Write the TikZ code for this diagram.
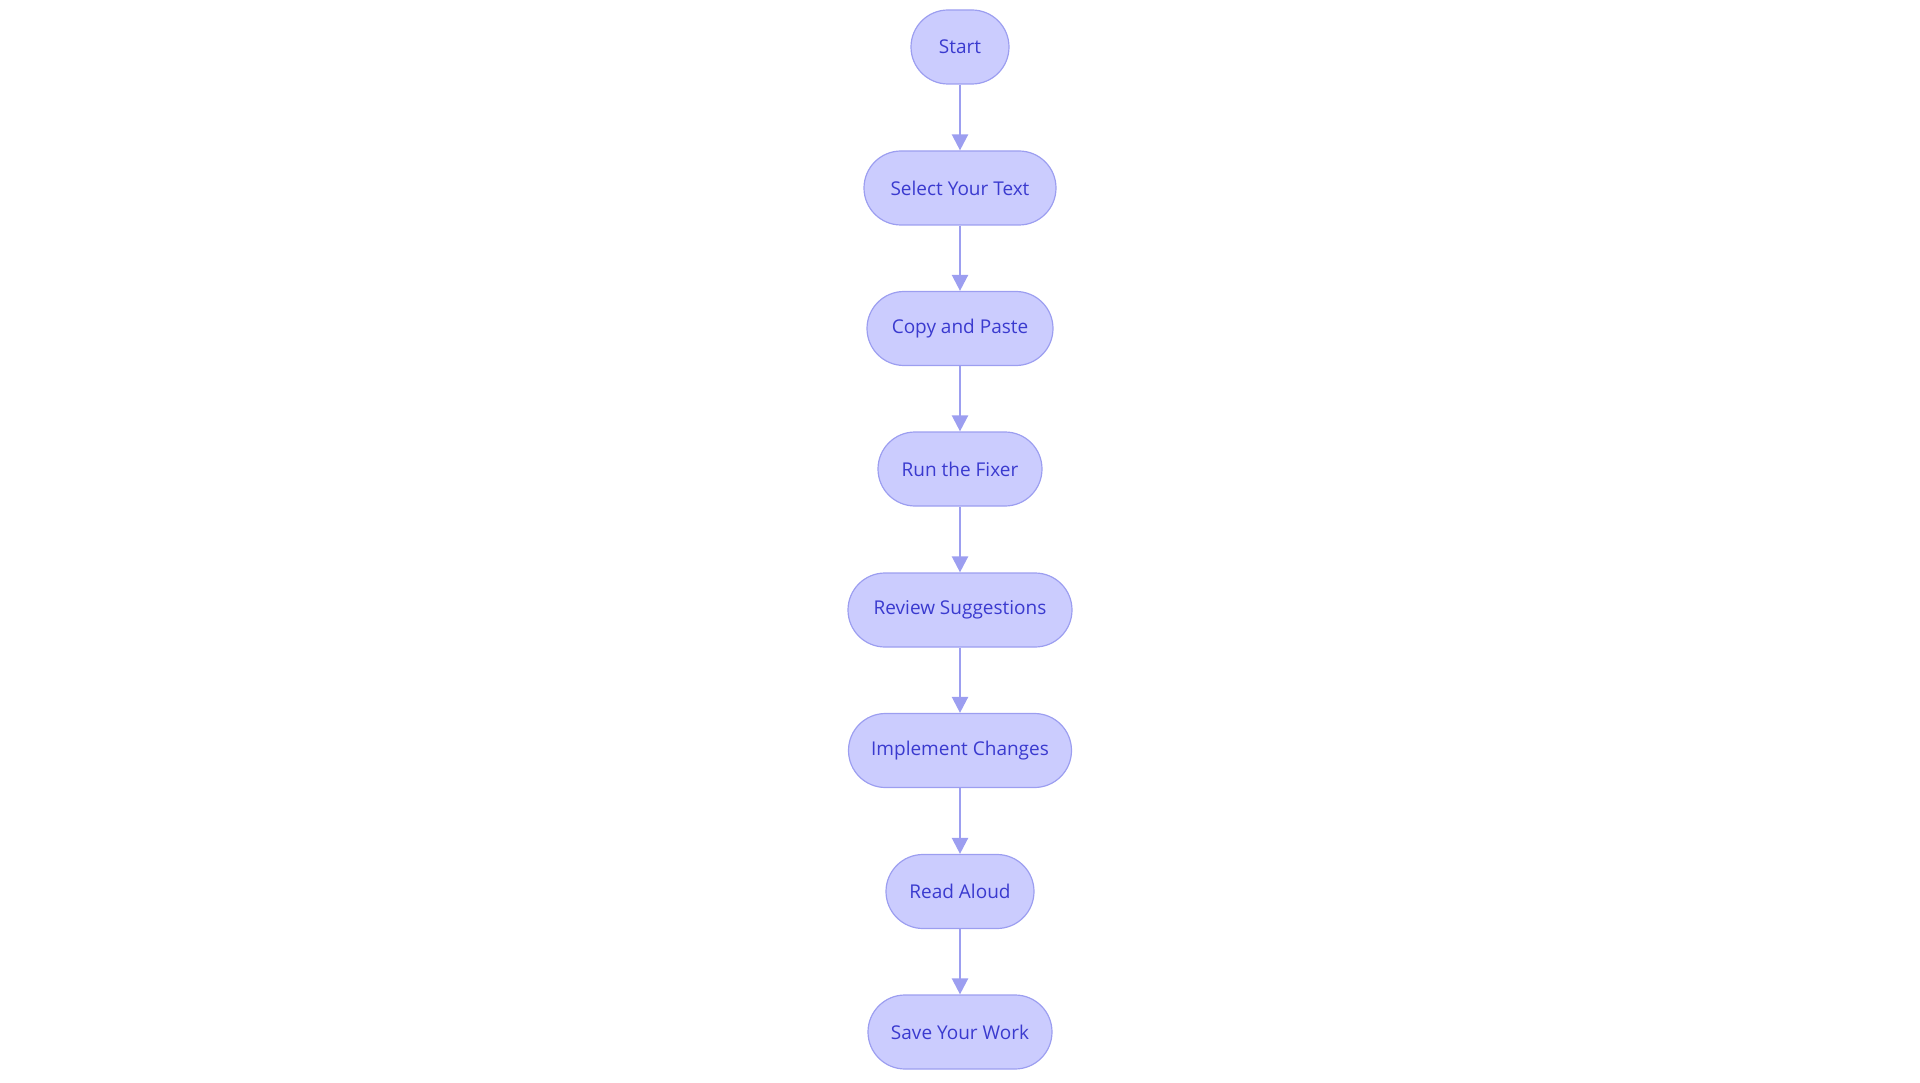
\documentclass[tikz,border=0pt]{standalone}
\usepackage{fontspec}
\setmainfont{Open Sans}
\usetikzlibrary{arrows.meta}
\definecolor{nodefill}{HTML}{CBCCFE}
\definecolor{nodedraw}{HTML}{9C9EF0}
\definecolor{nodetext}{HTML}{3A3ACF}
\definecolor{edgecol}{HTML}{9C9EF0}
\tikzset{
  x=1pt,y=1pt,
  stepbox/.style={draw=nodedraw, fill=nodefill, line width=1.2pt, rounded corners=37pt,
    minimum height=74pt, inner sep=0pt, text=nodetext, font=\fontsize{19}{22}\selectfont},
  flow/.style={draw=edgecol, line width=2.4pt, -{Triangle[length=16pt,width=16pt]}, shorten >=0pt}
}
\begin{document}
\begin{tikzpicture}
\useasboundingbox (0,0) rectangle (1920,-1083);
\node[stepbox, minimum width=98pt]  (n1) at (960,-47) {Start};
\node[stepbox, minimum width=192pt] (n2) at (960,-188) {Select Your Text};
\node[stepbox, minimum width=186pt] (n3) at (960,-328.5) {Copy and Paste};
\node[stepbox, minimum width=164pt] (n4) at (960,-469) {Run the Fixer};
\node[stepbox, minimum width=224pt] (n5) at (960,-610) {Review Suggestions};
\node[stepbox, minimum width=223pt] (n6) at (960,-750.5) {Implement Changes};
\node[stepbox, minimum width=148pt] (n7) at (960,-891.5) {Read Aloud};
\node[stepbox, minimum width=184pt] (n8) at (960,-1032) {Save Your Work};
\foreach \a/\b in {n1/n2,n2/n3,n3/n4,n4/n5,n5/n6,n6/n7,n7/n8}
  \draw[flow] (\a) -- (\b);
\end{tikzpicture}
\end{document}
